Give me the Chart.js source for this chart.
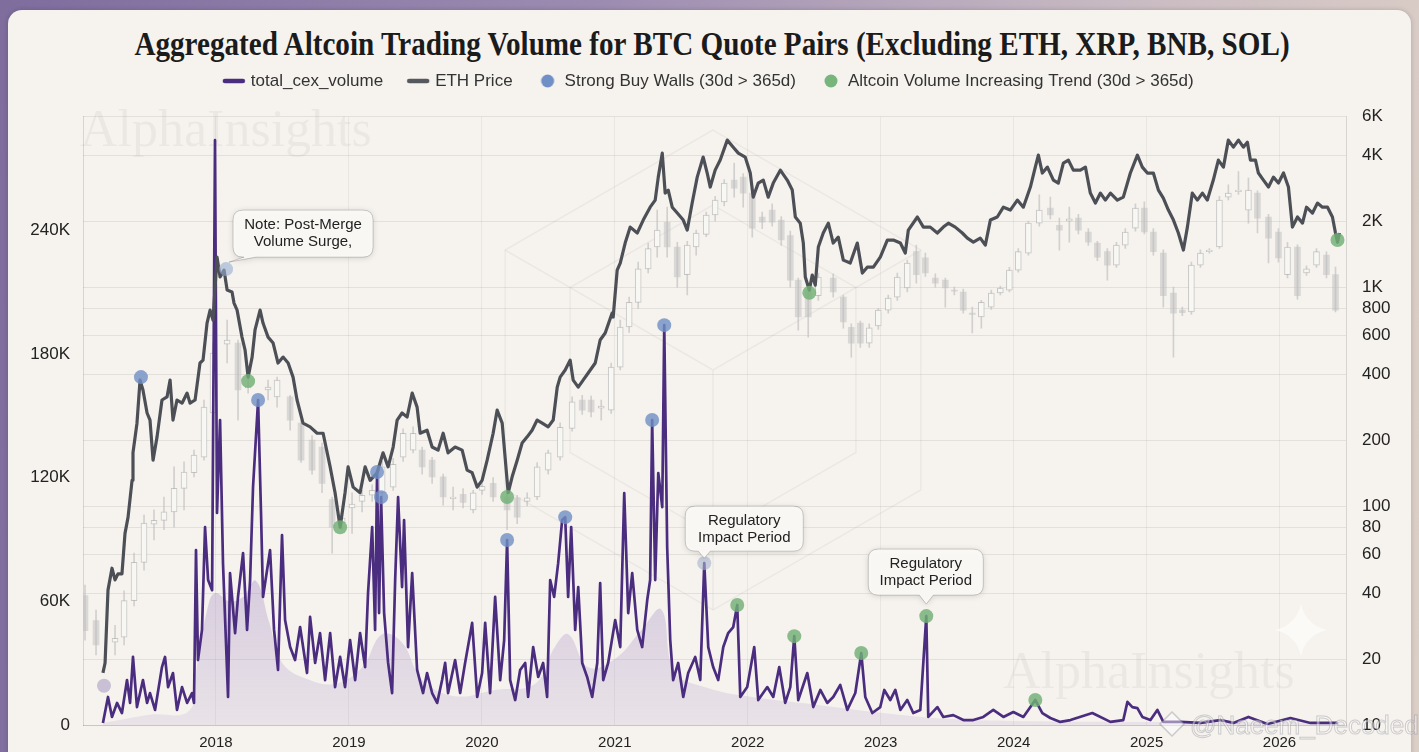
<!DOCTYPE html>
<html><head><meta charset="utf-8">
<script src="https://cdn.jsdelivr.net/npm/chart.js@4.4.1/dist/chart.umd.min.js"></script>
<style>
html,body{margin:0;padding:0;width:1419px;height:752px;overflow:hidden;}
body{background:linear-gradient(95deg,#7e6d9d 0%,#9c8bb1 40%,#c8bac2 75%,#dccfc6 100%);}
#card{position:absolute;left:8px;top:10px;width:1403px;height:780px;background:#f6f3ee;border-radius:14px;box-shadow:0 0 5px rgba(0,0,0,0.18);}
#wrap{position:absolute;left:0;top:0;width:1419px;height:752px;}
#title{position:absolute;left:712px;top:26px;white-space:nowrap;font-family:'Liberation Serif','Times New Roman',serif;font-weight:bold;font-size:33px;line-height:36px;color:#1b1b1b;transform-origin:center center;}
</style></head><body>
<div id="card"></div>
<div id="title">Aggregated Altcoin Trading Volume for BTC Quote Pairs (Excluding ETH, XRP, BNB, SOL)</div>
<div id="wrap"><canvas id="c"></canvas></div>
<script>
// ---------------- DATA ----------------
const yearTicks = [2018,2019,2020,2021,2022,2023,2024,2025,2026];
const volTicks = [0,60,120,180,240];                 // thousands
const priceTicks = [10,20,40,60,80,100,200,400,600,800,1000,2000,4000,6000];

// total_cex_volume (thousands)
const volDates = [2017.150,2017.188,2017.218,2017.256,2017.293,2017.331,2017.354,2017.376,2017.406,2017.451,
2017.482,2017.504,2017.542,2017.594,2017.617,2017.640,2017.677,2017.707,2017.745,2017.783,
2017.820,2017.835,2017.850,2017.865,2017.895,2017.918,2017.941,2017.971,2017.993,2018.008,
2018.031,2018.053,2018.091,2018.106,2018.144,2018.166,2018.204,2018.234,2018.257,2018.279,
2018.317,2018.339,2018.354,2018.407,2018.437,2018.467,2018.497,2018.520,2018.558,2018.595,
2018.633,2018.685,2018.708,2018.746,2018.783,2018.821,2018.859,2018.896,2018.934,2018.971,
2019.009,2019.047,2019.084,2019.122,2019.144,2019.175,2019.197,2019.212,2019.227,2019.242,
2019.265,2019.295,2019.325,2019.348,2019.370,2019.400,2019.415,2019.445,2019.476,2019.513,
2019.558,2019.588,2019.626,2019.664,2019.701,2019.724,2019.746,2019.799,2019.837,2019.874,
2019.927,2019.965,2020.002,2020.025,2020.062,2020.100,2020.138,2020.168,2020.190,2020.213,
2020.251,2020.288,2020.326,2020.348,2020.386,2020.424,2020.461,2020.491,2020.514,2020.544,
2020.574,2020.604,2020.627,2020.649,2020.672,2020.702,2020.725,2020.755,2020.792,2020.830,
2020.868,2020.890,2020.913,2020.950,2021.003,2021.041,2021.071,2021.101,2021.131,2021.169,
2021.206,2021.244,2021.266,2021.281,2021.304,2021.327,2021.357,2021.372,2021.394,2021.417,
2021.439,2021.477,2021.515,2021.552,2021.605,2021.643,2021.673,2021.703,2021.740,2021.778,
2021.816,2021.853,2021.891,2021.921,2021.944,2021.996,2022.049,2022.079,2022.147,2022.192,
2022.237,2022.282,2022.320,2022.350,2022.380,2022.448,2022.493,2022.546,2022.598,2022.643,
2022.696,2022.749,2022.809,2022.854,2022.884,2022.937,2022.997,2023.027,2023.072,2023.110,
2023.148,2023.200,2023.245,2023.298,2023.343,2023.358,2023.426,2023.471,2023.546,2023.622,
2023.697,2023.772,2023.847,2023.923,2023.998,2024.073,2024.126,2024.163,2024.216,2024.276,
2024.351,2024.427,2024.592,2024.728,2024.825,2024.856,2024.893,2024.931,2024.968,2025.029,
2025.081,2025.126,2025.254,2025.405,2025.555,2025.653,2025.766,2025.909,2026.082,2026.233,
2026.436];
const volValues = [1.0,13.6,3.9,10.7,5.8,21.8,10.7,33.0,8.7,21.8,
10.7,15.5,7.3,28.1,33.0,18.4,25.2,7.3,18.4,10.7,
15.5,10.7,84.8,31.5,46.1,96.0,70.3,65.4,283.6,102.8,
147.9,78.5,13.6,73.7,44.6,62.1,83.4,46.1,70.3,115.4,
157.6,102.8,62.1,84.8,46.1,26.7,92.1,50.9,37.8,31.5,
47.5,25.2,52.4,30.1,44.6,21.8,44.6,18.4,33.0,18.4,
41.2,21.8,44.6,28.1,64.0,96.0,46.1,122.7,54.3,110.5,
54.3,30.1,15.5,70.3,110.5,66.9,99.4,37.8,73.7,26.7,
15.5,25.2,15.5,10.7,21.8,30.1,15.5,31.5,15.5,30.1,
49.5,13.6,25.2,49.5,15.5,62.1,21.8,41.2,89.7,21.8,
12.1,26.7,30.1,13.6,37.8,23.3,30.1,13.6,70.3,62.1,
78.5,99.4,100.8,62.1,96.0,46.1,66.9,30.1,23.3,13.6,
30.1,68.8,21.8,30.1,50.9,37.8,112.5,54.3,73.7,46.1,
37.8,60.6,70.3,147.9,70.3,122.2,105.7,193.9,86.3,41.2,
21.8,30.1,13.6,25.2,33.0,21.8,78.5,37.8,28.1,21.8,
37.8,44.6,47.5,58.2,13.6,18.4,37.8,12.1,18.4,13.6,
28.1,10.7,18.4,43.1,12.1,25.2,8.7,17.0,10.7,13.6,
19.4,7.3,15.5,34.9,13.6,5.8,8.7,17.0,12.1,17.0,
7.3,12.1,5.8,7.3,52.8,3.9,8.7,3.9,4.8,2.4,
2.4,3.9,7.3,3.9,6.3,3.9,8.7,12.1,5.8,3.4,
1.5,2.4,5.8,1.5,2.4,11.2,8.7,8.2,3.9,2.4,
7.3,1.5,1.5,1.0,2.4,1.0,3.9,0.5,3.4,1.0,
1.0];

// smoothed volume envelope (thousands)
const smoothDates = [2017.15,2017.5,2017.8,2017.86,2017.95,2018.0,2018.1,2018.2,2018.3,2018.4,2018.5,2018.7,2018.9,2019.1,2019.25,2019.4,2019.55,2019.8,2020.1,2020.4,2020.55,2020.65,2020.8,2021.0,2021.2,2021.35,2021.45,2021.7,2022.0,2022.5,2023.0,2023.5,2024.0,2025.0,2026.45];
const smoothValues = [1,5,7,30,60,64,60,62,70,50,30,22,20,28,44,40,22,14,17,20,38,44,28,32,46,56,26,18,14,10,6,3,2,1.5,1];

// ETH Price
const priceDates = [2017.150,2017.166,2017.188,2017.218,2017.241,2017.263,2017.293,2017.316,2017.339,2017.369,
2017.376,2017.406,2017.429,2017.451,2017.482,2017.504,2017.527,2017.557,2017.594,2017.632,
2017.655,2017.677,2017.707,2017.745,2017.783,2017.805,2017.843,2017.880,2017.903,2017.933,
2017.956,2017.978,2018.008,2018.031,2018.061,2018.084,2018.121,2018.136,2018.159,2018.196,
2018.219,2018.242,2018.272,2018.294,2018.332,2018.354,2018.392,2018.430,2018.467,2018.505,
2018.543,2018.580,2018.610,2018.655,2018.708,2018.761,2018.806,2018.859,2018.896,2018.934,
2018.971,2018.994,2019.032,2019.084,2019.122,2019.160,2019.212,2019.257,2019.295,2019.333,
2019.363,2019.400,2019.438,2019.476,2019.513,2019.536,2019.588,2019.626,2019.671,2019.709,
2019.746,2019.799,2019.852,2019.889,2019.927,2019.965,2020.002,2020.040,2020.085,2020.115,
2020.153,2020.175,2020.198,2020.228,2020.266,2020.303,2020.341,2020.378,2020.416,2020.454,
2020.499,2020.537,2020.567,2020.589,2020.627,2020.664,2020.687,2020.725,2020.762,2020.800,
2020.853,2020.890,2020.928,2020.980,2020.988,2021.018,2021.041,2021.078,2021.116,2021.169,
2021.214,2021.266,2021.304,2021.327,2021.357,2021.379,2021.402,2021.432,2021.470,2021.515,
2021.545,2021.582,2021.620,2021.665,2021.695,2021.718,2021.755,2021.793,2021.846,2021.891,
2021.929,2021.981,2022.019,2022.041,2022.079,2022.117,2022.154,2022.192,2022.245,2022.297,
2022.335,2022.358,2022.395,2022.418,2022.433,2022.463,2022.485,2022.508,2022.531,2022.568,
2022.606,2022.643,2022.681,2022.719,2022.771,2022.824,2022.862,2022.899,2022.945,2022.997,
2023.050,2023.095,2023.148,2023.185,2023.208,2023.276,2023.321,2023.373,2023.426,2023.471,
2023.509,2023.561,2023.614,2023.652,2023.697,2023.749,2023.787,2023.825,2023.877,2023.923,
2023.975,2024.028,2024.073,2024.126,2024.163,2024.186,2024.216,2024.254,2024.299,2024.336,
2024.374,2024.412,2024.449,2024.502,2024.540,2024.577,2024.615,2024.653,2024.690,2024.728,
2024.780,2024.825,2024.878,2024.931,2024.968,2025.006,2025.051,2025.089,2025.126,2025.164,
2025.202,2025.239,2025.277,2025.307,2025.344,2025.382,2025.420,2025.457,2025.502,2025.540,
2025.578,2025.615,2025.653,2025.691,2025.728,2025.758,2025.781,2025.819,2025.841,2025.879,
2025.917,2025.954,2025.992,2026.030,2026.067,2026.097,2026.135,2026.173,2026.203,2026.248,
2026.285,2026.323,2026.361,2026.398,2026.421,2026.436,2026.451];
const priceValues = [17.3,19.2,41.3,52,46,49,49,75,89,131,
175,239,376,339,266,247,162,207,305,315,
376,247,305,295,328,295,305,450,464,685,
785,707,1371,1112,1196,969,949,845,785,591,
516,388,479,637,785,685,591,555,450,479,
450,388,305,239,230,215,215,151,115,80,
115,151,122,115,151,131,142,175,151,186,
247,266,255,328,283,215,222,186,180,215,
175,186,180,146,142,122,131,162,215,274,
239,167,115,136,162,194,207,222,247,239,
230,247,349,388,418,464,376,349,376,405,
450,573,617,761,730,1196,1288,1589,1879,1766,
2023,2317,2497,3178,4090,2687,2773,2317,2178,2023,
1821,2419,3178,3924,3318,2863,3420,3802,4690,4355,
4090,3924,3318,2576,2985,3081,2576,2985,3420,3081,
2773,2089,1959,1589,1112,969,1135,1021,1524,1766,
1959,1589,1691,1328,1288,1589,1159,1233,1233,1371,
1640,1640,1589,1430,1821,2089,1879,1879,1766,1879,
1959,1879,1766,1674,1604,1674,1555,2023,2089,2317,
2247,2497,2317,2863,3532,4006,3318,3532,3081,2985,
3684,3802,3420,3420,3532,2687,2419,2687,2497,2687,
2497,2576,3318,4006,3532,3318,3318,2773,2550,2247,
2023,1766,1476,1879,2687,2497,2687,2497,3081,3802,
3532,4690,4355,4690,4355,4592,3802,3802,3318,3081,
2863,3178,2985,3318,2863,1879,2089,1959,2317,2178,
2419,2317,2317,2089,1766,1604,1766];

// background candles (price scale)
const candleDates = [2017.015,2017.098,2017.241,2017.309,2017.384,2017.459,2017.534,2017.609,2017.685,2017.760,
2017.835,2017.910,2017.978,2018.084,2018.166,2018.242,2018.392,2018.460,2018.558,2018.640,
2018.723,2018.798,2018.874,2018.949,2019.024,2019.099,2019.175,2019.250,2019.333,2019.408,
2019.483,2019.551,2019.626,2019.709,2019.784,2019.859,2019.935,2020.002,2020.085,2020.190,
2020.266,2020.341,2020.416,2020.499,2020.589,2020.679,2020.755,2020.822,2020.898,2020.973,
2021.041,2021.108,2021.176,2021.251,2021.319,2021.394,2021.470,2021.545,2021.612,2021.688,
2021.755,2021.823,2021.898,2021.966,2022.034,2022.109,2022.184,2022.252,2022.320,2022.380,
2022.455,2022.531,2022.643,2022.719,2022.779,2022.847,2022.914,2022.982,2023.057,2023.125,
2023.200,2023.268,2023.336,2023.411,2023.486,2023.554,2023.621,2023.689,2023.757,2023.832,
2023.900,2023.968,2024.035,2024.111,2024.193,2024.276,2024.344,2024.419,2024.487,2024.562,
2024.630,2024.705,2024.773,2024.840,2024.916,2024.983,2025.051,2025.126,2025.202,2025.269,
2025.337,2025.405,2025.472,2025.548,2025.615,2025.691,2025.766,2025.834,2025.917,2025.992,
2026.060,2026.135,2026.203,2026.278,2026.353,2026.421];
const candleOpen = [39,30,23.9,25.2,37,55.3,82.6,86,94,120.5,
142,167,266,549,555,346,339,315,315,239,
200,186,107,84,98,105,112,115,122,167,
180,180,162,136,108,113,96,118,127,110,
109,105,110,146,167,226,305,305,280,274,
431,657,851,1212,1524,1980,1524,1140,1524,1740,
2135,2450,3081,3178,2687,2089,2248,2023,1720,1076,
969,913,1100,900,655,685,555,665,785,900,
990,1453,1360,1100,1076,969,950,760,730,810,
940,969,1196,1430,1959,2296,1915,2000,2066,1785,
1589,1453,1260,1555,1860,2296,1785,1430,940,785,
770,1260,1453,1524,2576,2730,2248,2687,2089,1785,
1140,1524,1160,1260,1400,1140];
const candleClose = [27,23.2,24.9,37,55.3,83.5,86,94,120.5,143,
171,283,500,573,339,353,349,376,247,162,
146,127,80,88,102,112,118,151,155,215,
215,151,136,110,110,104,115,123,110,96,
89,109,151,175,229,299,274,269,286,431,
657,851,1212,1500,1821,1524,1112,1555,1766,2135,
2497,2985,2829,2687,1860,1980,1980,1640,1076,730,
730,1112,950,694,555,555,652,785,890,1112,
1288,1140,1160,1043,990,959,785,750,851,940,
990,1196,1453,1959,2248,2135,1820,2050,1820,1604,
1371,1260,1555,1785,2296,1785,1453,913,760,765,
1260,1430,1476,2497,2687,2773,2773,2066,1674,1360,
1524,913,1212,1453,1140,785];
const candleHigh = [43.5,33.5,28.5,41,61,91,96,110,151,159,
180,305,555,707,573,388,376,388,320,247,
210,194,110,96,115,118,125,160,165,225,
230,186,167,140,122,120,118,128,135,115,
112,115,158,180,240,315,320,318,305,450,
707,900,1300,1589,2247,2317,1600,1620,1820,2200,
2600,3100,3684,3300,2800,2200,2400,2100,1800,1100,
1000,1160,1150,920,680,700,680,800,920,1160,
1330,1555,1430,1150,1100,1000,980,810,870,970,
1010,1230,1500,2000,2635,2576,2066,2317,2150,1850,
1620,1500,1600,1850,2400,2450,1850,1480,1000,810,
1300,1480,1500,2600,2930,3370,3150,2750,2150,1850,
1600,1560,1250,1500,1450,1233];
const candleLow = [24.4,20.9,20.9,23.2,35,51,70,78,80,96,
136,162,255,450,247,328,305,283,222,158,
140,115,61,78,75,94,105,110,118,160,
175,140,127,101,96,98,93,113,105,78,
83,100,107,140,162,220,262,255,247,265,
418,620,800,1160,1371,1370,1000,920,1400,1700,
2000,2350,2576,2317,1691,1850,1900,1550,1000,636,
591,870,900,650,479,530,530,640,760,870,
950,1043,1120,1000,810,920,760,617,650,790,
920,950,1170,1400,1900,2050,1476,1604,1750,1550,
1320,1076,1230,1500,1800,1750,1400,810,479,740,
750,1230,1430,1500,2500,2650,1960,1766,1288,1300,
1100,880,1130,1230,1100,770];

// signal markers
const buyWallVolDates = [2018.317,2019.212,2019.242,2020.190,2020.627,2021.281,2021.372,2021.673];
const buyWallVolValues = [157.6,122.7,110.5,89.7,100.8,147.9,193.9,78.5];
const buyWallPriceDates = [2017.158,2017.436,2018.076];
const buyWallPriceValues = [15.1,388,1208];
const trendVolDates = [2021.921,2022.350,2022.854,2023.343,2024.163];
const trendVolValues = [58.2,43.1,34.9,52.8,12.1];
const trendPriceDates = [2018.242,2018.934,2020.190,2022.463,2026.436];
const trendPriceValues = [372,80,110,941,1640];

// callouts
const noteTexts = [["Note: Post-Merge","Volume Surge,"],["Regulatory","Impact Period"],["Regulatory","Impact Period"]];
const noteDates = [2018.076,2021.673,2023.343];
const noteValues = [1208,78.5,52.8];
const noteAxes = ['y1','y','y'];

// ---------------- RENDER ----------------
const F = "'Liberation Sans', Arial, sans-serif";
const t = document.getElementById('title');
t.style.transform = 'translateX(-50%) scaleX(' + (1155 / t.scrollWidth) + ')';

const pts = (xs, ys) => xs.map((x, i) => ({x: x, y: ys[i]}));
const BLUE = 'rgba(111,143,196,0.80)', GREEN = 'rgba(112,176,116,0.82)';

function lineIcon(color){ const c=document.createElement('canvas'); c.width=26; c.height=8; const g=c.getContext('2d'); g.strokeStyle=color; g.lineWidth=4.5; g.lineCap='round'; g.beginPath(); g.moveTo(4,4); g.lineTo(22,4); g.stroke(); return c; }
function dotIcon(color){ const c=document.createElement('canvas'); c.width=16; c.height=16; const g=c.getContext('2d'); g.fillStyle=color; g.beginPath(); g.arc(8,8,6.5,0,Math.PI*2); g.fill(); return c; }
const legendIcons = [lineIcon('#4b2d7f'), lineIcon('#55595f'), dotIcon('#6f8fc6'), dotIcon('#78b57c')];

const upC = candleDates.map((d,i)=>candleClose[i] >= candleOpen[i]);

const decor = {
  id: 'decor',
  beforeDatasetsDraw(chart){
    const ctx = chart.ctx;
    ctx.save();
    ctx.strokeStyle = 'rgba(0,0,0,0.045)'; ctx.lineWidth = 1.5;
    const hex = (cx, cy, r) => { ctx.beginPath(); for (let k=0;k<6;k++){ const a=Math.PI/2+k*Math.PI/3; const px=cx+r*Math.cos(a), py=cy-r*Math.sin(a); if(k) ctx.lineTo(px,py); else ctx.moveTo(px,py);} ctx.closePath(); ctx.stroke(); };
    hex(713,370,240); hex(713,370,165);
    ctx.beginPath(); ctx.moveTo(713,370); ctx.lineTo(713,610); ctx.moveTo(713,370); ctx.lineTo(505,250); ctx.moveTo(713,370); ctx.lineTo(921,250); ctx.stroke();
    ctx.font = "52px 'Liberation Serif', serif"; ctx.fillStyle = 'rgba(0,0,0,0.045)';
    ctx.textBaseline = 'alphabetic'; ctx.textAlign = 'left';
    ctx.fillText('AlphaInsights', 80, 146);
    ctx.fillText('AlphaInsights', 1003, 688);
    ctx.restore();
  },
  afterDatasetsDraw(chart){
    const ctx = chart.ctx;
    const boxes = [
      {dx:7, dy:-59, w:140, h:47, tx:3, ty:-7, bl:18, br:30},
      {dx:-19, dy:-57, w:118, h:45, tx:0, ty:-5, bl:-6, br:6},
      {dx:-58, dy:-67, w:115, h:46, tx:0, ty:-12, bl:-7, br:7}
    ];
    noteTexts.forEach((lines, i) => {
      const ax = chart.scales.x.getPixelForValue(noteDates[i]);
      const ay = chart.scales[noteAxes[i]].getPixelForValue(noteValues[i]);
      const b = boxes[i];
      const x = ax + b.dx, y = ay + b.dy, w = b.w, h = b.h, r = 10;
      ctx.save();
      ctx.beginPath();
      ctx.moveTo(x+r,y); ctx.lineTo(x+w-r,y); ctx.quadraticCurveTo(x+w,y,x+w,y+r);
      ctx.lineTo(x+w,y+h-r); ctx.quadraticCurveTo(x+w,y+h,x+w-r,y+h);
      ctx.lineTo(ax+b.br,y+h); ctx.lineTo(ax+b.tx,ay+b.ty); ctx.lineTo(ax+b.bl,y+h);
      ctx.lineTo(x+r,y+h); ctx.quadraticCurveTo(x,y+h,x,y+h-r);
      ctx.lineTo(x,y+r); ctx.quadraticCurveTo(x,y,x+r,y); ctx.closePath();
      ctx.shadowColor = 'rgba(0,0,0,0.15)'; ctx.shadowBlur = 6; ctx.shadowOffsetY = 1;
      ctx.fillStyle = 'rgba(249,248,245,0.97)'; ctx.fill();
      ctx.shadowColor = 'transparent';
      ctx.strokeStyle = 'rgba(0,0,0,0.18)'; ctx.lineWidth = 1; ctx.stroke();
      ctx.fillStyle = '#222'; ctx.font = '15px ' + F; ctx.textAlign = 'center'; ctx.textBaseline = 'middle';
      lines.forEach((s, k) => ctx.fillText(s, x + w/2, y + 15 + k*17));
      ctx.restore();
    });
  },
  afterDraw(chart){
    const ctx = chart.ctx;
    ctx.save();
    ctx.fillStyle = 'rgba(255,255,255,0.55)';
    ctx.beginPath(); const sx=1301, sy=630, R=26, r=5;
    ctx.moveTo(sx,sy-R); ctx.quadraticCurveTo(sx+r,sy-r,sx+R,sy); ctx.quadraticCurveTo(sx+r,sy+r,sx,sy+R); ctx.quadraticCurveTo(sx-r,sy+r,sx-R,sy); ctx.quadraticCurveTo(sx-r,sy-r,sx,sy-R); ctx.fill();
    ctx.strokeStyle = 'rgba(120,120,130,0.35)'; ctx.lineWidth = 1.5;
    ctx.fillStyle = 'rgba(255,255,255,0.45)';
    ctx.beginPath(); ctx.moveTo(1172,712); ctx.lineTo(1184,724); ctx.lineTo(1172,736); ctx.lineTo(1160,724); ctx.closePath(); ctx.fill(); ctx.stroke();
    ctx.font = '26px ' + F; ctx.textAlign = 'left'; ctx.textBaseline = 'alphabetic';
    ctx.fillText('@Naeem_Decoded', 1190, 734); ctx.lineWidth = 1; ctx.strokeText('@Naeem_Decoded', 1190, 734);
    ctx.restore();
  }
};

new Chart(document.getElementById('c'), {
  type: 'line',
  data: { datasets: [
    { type:'line', label:'total_cex_volume', data: pts(volDates, volValues), yAxisID:'y', borderColor:'#4b2d7f', borderWidth:2.7, pointRadius:0, tension:0, fill:false, borderJoinStyle:'round', order:3 },
    { type:'line', label:'ETH Price', data: pts(priceDates, priceValues), yAxisID:'y1', borderColor:'#4c5056', borderWidth:3.2, pointRadius:0, tension:0, fill:false, borderJoinStyle:'round', order:2 },
    { type:'scatter', label:'Strong Buy Walls (30d > 365d)', data: pts(buyWallVolDates, buyWallVolValues), yAxisID:'y', pointRadius:7, pointBorderWidth:0,
      pointBackgroundColor: buyWallVolDates.map((d,i)=> i===buyWallVolDates.length-1 ? 'rgba(165,178,205,0.6)' : BLUE), order:0 },
    { type:'scatter', label:'Altcoin Volume Increasing Trend (30d > 365d)', data: pts(trendVolDates, trendVolValues), yAxisID:'y', pointRadius:7, pointBorderWidth:0, pointBackgroundColor: GREEN, order:0 },
    { type:'scatter', label:'buy walls (price)', data: pts(buyWallPriceDates, buyWallPriceValues), yAxisID:'y1', pointRadius:7, pointBorderWidth:0,
      pointBackgroundColor: ['rgba(185,175,205,0.75)', BLUE, 'rgba(150,172,208,0.6)'], order:0 },
    { type:'scatter', label:'trend (price)', data: pts(trendPriceDates, trendPriceValues), yAxisID:'y1', pointRadius:7, pointBorderWidth:0, pointBackgroundColor: GREEN, order:0 },
    { type:'line', label:'volume envelope', data: pts(smoothDates, smoothValues), yAxisID:'y', borderWidth:0, pointRadius:0, tension:0.4, fill:'origin',
      backgroundColor: (c) => { const a = c.chart.chartArea; if (!a) return 'rgba(140,110,185,0.2)'; const g = c.chart.ctx.createLinearGradient(0, a.bottom-170, 0, a.bottom); g.addColorStop(0,'rgba(140,110,185,0.32)'); g.addColorStop(1,'rgba(140,110,185,0.12)'); return g; }, order:6 },
    { type:'bar', label:'candles', data: candleDates.map((d,i)=>({x:d, y:[candleOpen[i], candleClose[i]]})), yAxisID:'y1', barThickness:6, grouped:false, borderSkipped:false,
      backgroundColor: upC.map(u => u ? 'rgba(250,249,246,0.9)' : 'rgba(190,190,190,0.5)'),
      borderColor: upC.map(u => u ? 'rgba(175,175,175,0.65)' : 'rgba(190,190,190,0.5)'),
      borderWidth: upC.map(u => u ? 1 : 0), order:8 },
    { type:'bar', label:'wicks', data: candleDates.map((d,i)=>({x:d, y:[candleLow[i], candleHigh[i]]})), yAxisID:'y1', barThickness:1, grouped:false,
      backgroundColor:'rgba(185,185,185,0.6)', borderWidth:0, order:9 }
  ]},
  options: {
    responsive:true, maintainAspectRatio:false, animation:false,
    layout: { padding: { top:46, left:0, right:0, bottom:0 } },
    plugins: {
      title: { display:true, text:' ', font:{ size:1 }, padding:{ top:0, bottom:16 }, weight:500, position:'top' },
      tooltip: { enabled:false },
      legend: { display:true, position:'top', align:'center', weight:1000,
        labels: { usePointStyle:true, boxWidth:17, boxHeight:14, padding:26.5, color:'#333', font:{ size:17, family:F },
          generateLabels: (chart) => [0,1,2,3].map(i => ({ text: chart.data.datasets[i].label, pointStyle: legendIcons[i], fillStyle:'transparent', strokeStyle:'transparent', lineWidth:0, hidden:false, datasetIndex:i, fontColor:'#333' })) } }
    },
    scales: {
      x: { type:'linear', min:2017, max:2026.5, offset:false,
        afterBuildTicks: s => { s.ticks = yearTicks.map(v => ({value:v})); },
        afterFit: s => { s.height = 27; },
        ticks: { callback: v => String(v), font:{size:15, family:F}, color:'#222', padding:9, maxRotation:0, autoSkip:false },
        grid: { color:'rgba(0,0,0,0.05)', drawTicks:false, offset:false }, border: { color:'rgba(0,0,0,0.12)' } },
      y: { type:'linear', position:'left', min:0, max:295,
        afterBuildTicks: s => { s.ticks = volTicks.map(v => ({value:v})); },
        afterFit: s => { s.width = 83; },
        ticks: { callback: v => v === 0 ? '0' : v + 'K', font:{size:17, family:F}, color:'#222', padding:13, autoSkip:false },
        grid: { display:false, drawTicks:false }, border: { display:true, color:'rgba(0,0,0,0.12)' } },
      y1: { type:'logarithmic', position:'right', min:10, max:6000,
        afterBuildTicks: s => { s.ticks = priceTicks.map(v => ({value:v})); },
        afterFit: s => { s.width = 73; },
        ticks: { callback: v => v >= 1000 ? (v/1000) + 'K' : String(v), font:{size:17, family:F}, color:'#222', padding:16, autoSkip:false },
        grid: { color:'rgba(0,0,0,0.075)', drawTicks:false }, border: { color:'rgba(0,0,0,0.12)' } }
    }
  },
  plugins: [decor]
});
</script>
</body></html>
